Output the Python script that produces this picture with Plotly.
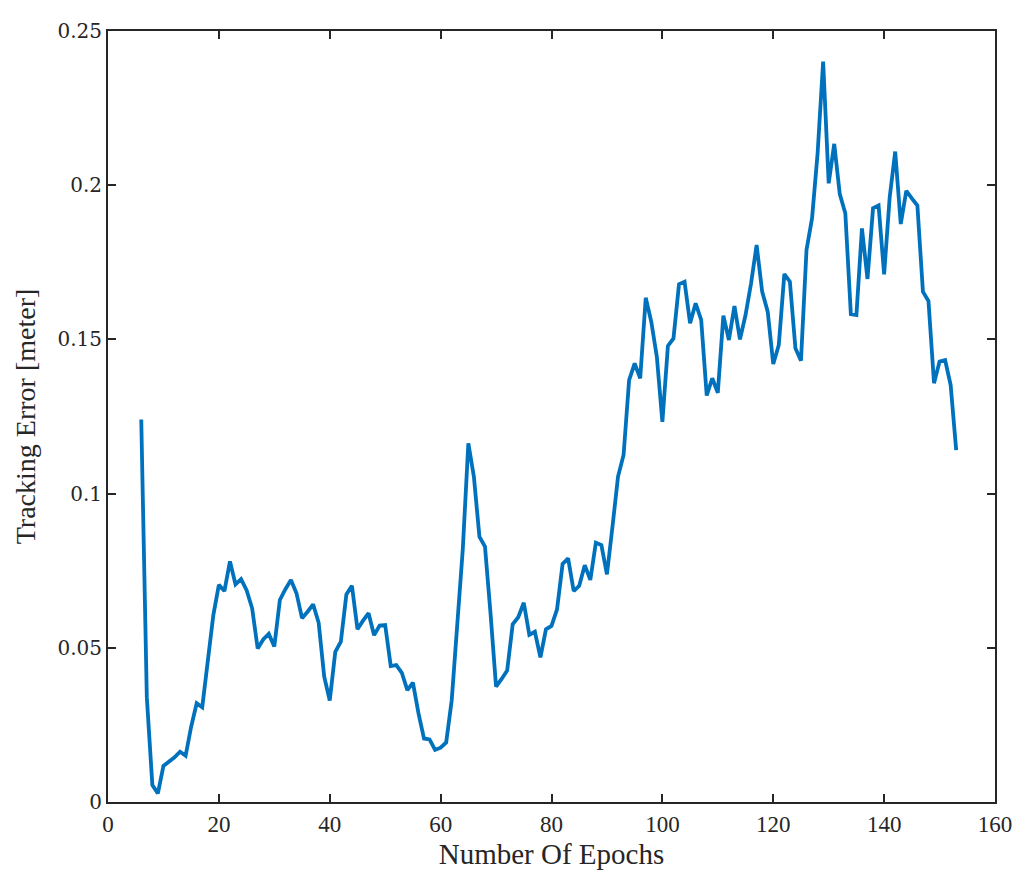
"""
Tracking error per epoch, drawn as a MATLAB-style line plot.
"""

import plotly.graph_objects as go

epochs = list(range(6, 154))

tracking_error = [
    0.124, 0.034, 0.0055, 0.0028, 0.0117, 0.013, 0.0145, 0.0163, 0.015, 0.0244,
    0.032, 0.0307, 0.045, 0.0606, 0.0704, 0.0684, 0.078, 0.0706, 0.0723, 0.0687,
    0.0628, 0.0498, 0.0527, 0.0545, 0.0504, 0.0655, 0.069, 0.072, 0.0677, 0.0596,
    0.0617, 0.0641, 0.0581, 0.0406, 0.0329, 0.0487, 0.052, 0.0673, 0.0701, 0.056,
    0.0588, 0.0612, 0.0541, 0.0572, 0.0574, 0.0441, 0.0444, 0.0419, 0.0363, 0.0387,
    0.0288, 0.0206, 0.0203, 0.0169, 0.0176, 0.0193, 0.033, 0.057, 0.082, 0.1163,
    0.1055, 0.086, 0.0828, 0.0612, 0.0374, 0.0399, 0.0426, 0.0576, 0.0599, 0.0646,
    0.0542, 0.0552, 0.0469, 0.056, 0.0571, 0.0625, 0.0772, 0.079, 0.0684, 0.0701,
    0.0768, 0.072, 0.0841, 0.0833, 0.0738, 0.0893, 0.1055, 0.1125, 0.1368, 0.1422,
    0.1374, 0.1635, 0.1557, 0.1444, 0.1233, 0.1479, 0.1503, 0.1679, 0.1687, 0.1552,
    0.1617, 0.1563, 0.1318, 0.1374, 0.1327, 0.1577, 0.1498, 0.1608, 0.15, 0.1579,
    0.1682, 0.1806, 0.1655, 0.159, 0.142, 0.1482, 0.1712, 0.1687, 0.1471, 0.1431,
    0.179, 0.1893, 0.2103, 0.2401, 0.2006, 0.2134, 0.1971, 0.1909, 0.1582, 0.1579,
    0.186, 0.1696, 0.1925, 0.1934, 0.1711, 0.196, 0.2109, 0.1874, 0.1982, 0.1957,
    0.1934, 0.1655, 0.1624, 0.1358, 0.1428, 0.1433, 0.1352, 0.1141,
]

x_ticks = [0, 20, 40, 60, 80, 100, 120, 140, 160]
y_ticks = [0, 0.05, 0.1, 0.15, 0.2, 0.25]
y_tick_labels = ["0", "0.05", "0.1", "0.15", "0.2", "0.25"]

AXIS_COLOR = "#262626"
LINE_COLOR = "#0072BD"

fig = go.Figure()
fig.add_trace(
    go.Scatter(
        x=epochs,
        y=tracking_error,
        mode="lines",
        line={"color": LINE_COLOR, "width": 3.8},
        showlegend=False,
    )
)

axis_common = {
    "showgrid": False,
    "zeroline": False,
    "showline": True,
    "linecolor": AXIS_COLOR,
    "linewidth": 2,
    "mirror": "ticks",
    "ticks": "inside",
    "ticklen": 8,
    "tickwidth": 2,
    "tickcolor": AXIS_COLOR,
    "automargin": False,
}

fig.update_xaxes(
    range=[0, 160],
    tickvals=x_ticks,
    tickfont={"family": "Liberation Serif", "size": 23, "color": AXIS_COLOR},
    title={
        "text": "Number Of Epochs",
        "font": {"family": "Liberation Serif", "size": 29, "color": AXIS_COLOR},
        "standoff": 8,
    },
    **axis_common,
)
fig.update_yaxes(
    range=[0, 0.25],
    tickvals=y_ticks,
    ticktext=y_tick_labels,
    tickfont={"family": "DejaVu Serif", "size": 20, "color": AXIS_COLOR},
    title={
        "text": "Tracking Error [meter]",
        "font": {"family": "Liberation Serif", "size": 28, "color": AXIS_COLOR},
        "standoff": 14,
    },
    **axis_common,
)

# page body adds an 8px offset, so the figure is sized and placed to match
fig.update_layout(
    width=1008,
    height=866,
    margin={"l": 100, "r": 21, "t": 23, "b": 72},
    paper_bgcolor="white",
    plot_bgcolor="white",
)

fig.write_html("out.html")
